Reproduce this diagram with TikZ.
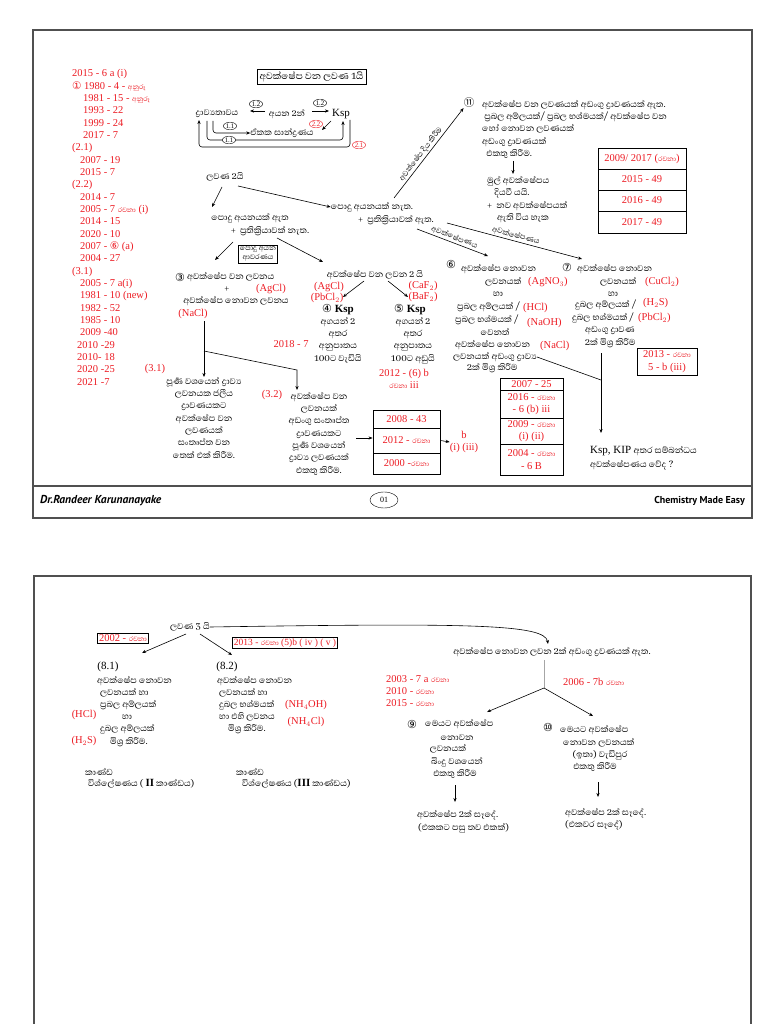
\documentclass[tikz,border=0pt]{standalone}
\usepackage{fontspec}
\setmainfont{Liberation Serif}
\newfontfamily\sif[Script=Sinhala]{Abhaya Libre}
\newfontfamily\dvs{DejaVu Sans}
\newfontfamily\cjk{Noto Sans CJK JP}
\newfontfamily\ftf{PT Sans}
\usetikzlibrary{arrows.meta,shapes.geometric}
\definecolor{rd}{RGB}{237,28,36}
\definecolor{frm}{RGB}{80,80,80}
\newcommand{\sn}[1]{{\sif\fontsize{8.5}{9}\selectfont #1}}
\begin{document}
\begin{tikzpicture}[x=1pt,y=-1pt,
  si/.style={font=\sif\fontsize{11}{12.3}\selectfont,inner sep=0pt,align=center},
  sit/.style={font=\sif\fontsize{10.8}{12}\selectfont,inner sep=0pt,align=center},
  sis/.style={font=\sif\fontsize{9.5}{10}\selectfont,inner sep=1pt},
  rt/.style={text=rd,font=\fontsize{10.5}{12.3}\selectfont,inner sep=0pt,align=center},
  bt/.style={font=\fontsize{11}{12}\selectfont,inner sep=0pt},
  cn/.style={font=\dvs\fontsize{11}{12}\selectfont,inner sep=0pt},
  arr/.style={line width=0.6pt,-{Stealth[length=4pt,width=3.2pt]}},
  ln/.style={line width=0.6pt},
  cell/.style={draw,line width=0.9pt,rt,minimum width=#1,inner sep=0pt},
  ell/.style={draw,ellipse,inner sep=0.4pt,font=\fontsize{6.8}{7}\selectfont},
]
\useasboundingbox (0,0) rectangle (768,1024);
\fill[white] (0,0) rectangle (768,1024);
% frames
\draw[frm,line width=1.1pt] (33,30) rectangle (752,518);
\draw[frm,line width=1.1pt] (33,486) -- (752,486);
\draw[frm,line width=1.1pt] (34,1040) -- (34,576) -- (751,576) -- (751,1040);
% footer
\node[font=\ftf\bfseries\itshape\fontsize{11.5}{12}\selectfont,anchor=west,inner sep=0pt] (fl) at (40,501) {Dr.Randeer Karunanayake};
\node[draw,ellipse,minimum width=28pt,minimum height=16pt,inner sep=0pt,font=\fontsize{8}{9}\selectfont] (fpg) at (384,500) {01};
\node[font=\ftf\bfseries\fontsize{10}{12}\selectfont,anchor=east,inner sep=0pt] (fr) at (745,501) {Chemistry Made Easy};
% left list
\foreach \x/\t [count=\i] in {
72/{2015 - 6 a (i)},
72/{{\dvs ①} 1980 - 4 - \sn{අනුරූ}},
83/{1981 - 15 - \sn{අනුරූ}},
83/{1993 - 22},
83/{1999 - 24},
83/{2017 - 7},
72/{(2.1)},
80/{2007 - 19},
80/{2015 - 7},
72/{(2.2)},
80/{2014 - 7},
80/{2005 - 7 \sn{රචනා} (i)},
80/{2014 - 15},
80/{2020 - 10},
80/{2007 - {\dvs ⑥} (a)},
80/{2004 - 27},
72/{(3.1)},
80/{2005 - 7 a(i)},
80/{1981 - 10 (new)},
80/{1982 - 52},
80/{1985 - 10},
80/{2009 -40},
77/{2010 -29},
77/{2010- 18},
77/{2020 -25},
77/{2021 -7}}
{\node[rt,anchor=base west] (lst\i) at (\x,{77+(\i-1)*12.32}) {\t};}
% ---------- salt 1
\node[draw,line width=0.8pt,si,font=\sif\fontsize{12}{13}\selectfont,inner sep=2.5pt] (title1) at (311.5,77) {අවක්ෂේප වන ලවණ 1යි};
\node[sit] (drav) at (217,114) {ද්^^^^200dරාව්^^^^200dයතාවය};
\node[sit] (ayana) at (287,114) {අයන 2න්};
\node[bt] (ksp) at (341,114) {Ksp};
\node[sit] (ekaka) at (282,133) {ඒකක සාන්ද්^^^^200dරණය};
\node[ell] (e12a) at (256,104) {1.2};
\node[ell] (e12b) at (320,103) {1.2};
\coordinate (ar1s) at (265,111);
\coordinate (ar1e) at (250,111);
\coordinate (ar2s) at (312,111);
\coordinate (ar2e) at (329,111);
\draw[arr] (ar1s) -- (ar1e);
\draw[arr] (ar2s) -- (ar2e);
\coordinate (d1) at (213,121);
\coordinate (d2) at (207,121);
\coordinate (d3) at (199,120);
\coordinate (k2) at (343,121);
\coordinate (k3) at (350,120);
\draw[arr,rounded corners=3pt] (d1) |- (ekaka.west);
\draw[arr,rounded corners=3pt] (d2) -- (207,140) -- (343,140) -- (k2);
\draw[arr,rounded corners=3pt] (k3) -- (350,147) -- (199,147) -- (d3);
\node[ell] (e11a) at (230,126) {1.1};
\node[ell,fill=white] (e11b) at (229,140) {1.1};
\node[ell,draw=rd,text=rd] (e22) at (316,124) {2.2};
\node[ell,draw=rd,text=rd,fill=white] (e21) at (359,145) {2.1};
\coordinate (k22a) at (331,121);
\coordinate (k22b) at (322,130);
\draw[arr] (k22a) -- (k22b);
% ---------- salt 2
\node[si] (lav2) at (225,177) {ලවණ 2යි};
\node[si] (pa1) at (250,218) {පොදු අයනයක් ඇත};
\node[si] (pa2) at (270,231) {+\ \ ප්^^^^200dරතික්^^^^200dරියාවක් නැත.};
\node[si] (pb1) at (372,207) {පොදු අයනයක් නැත.};
\node[si] (pb2) at (396,220) {+\ \ ප්^^^^200dරතික්^^^^200dරියාවක් ඇත.};
\coordinate (l2a) at (222,187);
\coordinate (l2b) at (212,207);
\coordinate (l2c) at (238,186);
\draw[arr] (l2a) -- (l2b);
\draw[arr] (l2c) -- (pb1.west);
\node[draw,line width=0.8pt,si,font=\sif\fontsize{9}{9.5}\selectfont,inner sep=1.5pt] (bxpa) at (258,254) {පොදු අයන\\ආවරණය};
\coordinate (pa3) at (233,242);
\coordinate (pa4) at (215,260);
\draw[arr] (pa3) -- (pa4);
\coordinate (pa5) at (277,238);
\coordinate (pa6) at (323,262);
\draw[arr] (pa5) -- (pa6);
% 3
\node[cn] (c3) at (180,277) {③};
\node[si,anchor=west] (s3a) at (187,277) {අවක්ෂේප වන ලවනය};
\node[si] (s3p) at (227,289) {+};
\node[rt] (agcl1) at (271,289) {(AgCl)};
\node[si] (s3b) at (236,301) {අවක්ෂේප නොවන ලවනය};
\node[rt] (nacl1) at (193,314) {(NaCl)};
\node[rt] (h31) at (155,369) {(3.1)};
\node[rt] (h32) at (272,395) {(3.2)};
\node[si,anchor=north] (s31) at (204,377) {පූර්^^^^200dණ වශයෙන් ද්^^^^200dරාව්^^^^200dය\\ලවනයක ජලීය\\ද්^^^^200dරාවණයකට\\අවක්ෂේප වන\\ලවණයක්\\සංතෘප්ත වන\\තෙක් එක් කිරීම.};
\node[si,anchor=north] (s32) at (319,392) {අවක්ෂේප වන\\ලවනයක්\\අඩංගු සංතෘප්ත\\ද්^^^^200dරාවණයකට\\පූර්^^^^200dණ වශයෙන්\\ද්^^^^200dරාව්^^^^200dය ලවණයක්\\එකතු කිරීම.};
\coordinate (v3) at (204,321);
\coordinate (v3m) at (204,351);
\coordinate (v3b) at (297,370);
\coordinate (v3c) at (297,390);
\draw[ln] (v3) -- (v3m);
\draw[arr] (v3m) -- (v3m |- s31.north);
\draw[arr] (v3m) -- (v3b) -- (v3c);
% two precipitating salts
\node[si] (s2yi) at (375,275) {අවක්ෂේප වන ලවන 2 යි};
\node[rt] (agcl2) at (329,287) {(AgCl)};
\node[rt] (pbcl2) at (327,298) {(PbCl$_2$)};
\node[rt] (caf2) at (423,286) {(CaF$_2$)};
\node[rt] (baf2) at (423,297) {(BaF$_2$)};
\coordinate (q1) at (364,281);
\coordinate (q2) at (343,297);
\coordinate (q3) at (388,281);
\coordinate (q4) at (408,297);
\draw[arr] (q1) -- (q2);
\draw[arr] (q3) -- (q4);
\node[bt,font=\fontsize{11}{12}\selectfont\bfseries] (k4) at (338,310) {{\dvs\mdseries ④} Ksp};
\node[bt,font=\fontsize{11}{12}\selectfont\bfseries] (k5) at (410,310) {{\dvs\mdseries ⑤} Ksp};
\node[si,anchor=north] (s4) at (338,317) {අගයන් 2\\අතර\\අනුපාතය\\100ට වැඩියි};
\node[si,anchor=north] (s5) at (413,317) {අගයන් 2\\අතර\\අනුපාතය\\100ට අඩුයි};
\node[rt] (y2018) at (291,344) {2018 - 7};
\node[rt] (y2012) at (404,379) {2012 - (6) b\\\sn{රචනා} iii};
% table 3.2
\node[cell=67pt,minimum height=18pt] (ta1) at (406.5,419) {2008 - 43};
\node[cell=67pt,minimum height=25pt] (ta2) at (406.5,440.5) {2012 - \sn{රචනා}};
\node[cell=67pt,minimum height=21pt] (ta3) at (406.5,463.5) {2000 -\sn{රචනා}};
\coordinate (a32) at (356,438);
\draw[arr] (a32) -- (ta2.west |- a32);
\node[rt] (bi) at (464,442) {b\\(i) (iii)};
\draw[arr] (ta2.east) -- (bi.west);
% ---------- 11
\node[font=\cjk\fontsize{10.5}{12}\selectfont,inner sep=0pt] (c11) at (469,103) {⑪};
\node[si,anchor=north west,align=left] (s11) at (482,100) {අවක්ෂේප වන ලවණයක් අඩංගු ද්^^^^200dරාවණයක් ඇත.\\\ ප්^^^^200dරබල අම්ලයක්/ ප්^^^^200dරබල භශ්මයක්/ අවක්ෂේප වන\\හෝ නොවන ලවණයක්\\අඩංගු ද්^^^^200dරාවණයක්\\\ \ එකතු කිරීම.};
\coordinate (a11a) at (513,161);
\coordinate (a11b) at (513,174);
\draw[arr] (a11a) -- (a11b);
\node[si,anchor=west] (m1) at (487,181) {මුල් අවක්ෂේපය};
\node[si] (m2) at (512,193) {දියවී යයි.};
\node[si,anchor=west] (m3) at (487,206) {+\ \ නව අවක්ෂේපයක්};
\node[si] (m4) at (523,218) {ඇති විය හැක};
\coordinate (dg1) at (394,198);
\draw[arr] (dg1) -- (c11.south west) node[pos=0.45,sloped,above,sis] {අවක්ෂේප දිය කිරීම};
% table right
\node[cell=88pt,minimum height=21pt] (tr1) at (642,158.5) {2009/ 2017 (\sn{රචනා})};
\node[cell=88pt,minimum height=21pt] (tr2) at (642,179.5) {2015 - 49};
\node[cell=88pt,minimum height=21pt] (tr3) at (642,200.5) {2016 - 49};
\node[cell=88pt,minimum height=22pt] (tr4) at (642,222) {2017 - 49};
% precipitation arrows
\coordinate (p1) at (417,229);
\coordinate (p2) at (488,256);
\coordinate (p3) at (447,223);
\coordinate (p4) at (582,259);
\draw[arr] (p1) -- (p2) node[midway,sloped,above,sis] {අවක්ෂේපණය};
\draw[arr] (p3) -- (p4) node[midway,sloped,above,sis] {අවක්ෂේපණය};
% 6
\node[cn] (c6) at (451,264) {⑥};
\node[si,anchor=west] (s6a) at (461,269) {අවක්ෂේප නොවන};
\node[si,anchor=west] (s6b) at (485,282) {ලවනයක්};
\node[rt,anchor=west] (agno3) at (528,282) {(AgNO$_3$)};
\node[si] (s6c) at (498,294) {හා};
\node[si,anchor=west] (s6d) at (457,307) {ප්^^^^200dරබල අම්ලයක් /};
\node[rt,anchor=west] (hcl1) at (523,308) {(HCl)};
\node[si,anchor=west] (s6e) at (455,320) {ප්^^^^200dරබල භශ්මයක් /};
\node[rt,anchor=west] (naoh) at (527,323) {(NaOH)};
\node[si] (s6f) at (495,332) {වෙනත්};
\node[si,anchor=west] (s6g) at (455,345) {අවක්ෂේප නොවන};
\node[rt,anchor=west] (nacl2) at (540,346) {(NaCl)};
\node[si,anchor=west] (s6h) at (453,357) {ලවනයක් අඩංගු ද්^^^^200dරාව්^^^^200dය};
\node[si,anchor=west] (s6i) at (467,368) {2ක් මිශ්^^^^200dර කිරීම};
% 7
\node[cn] (c7) at (567,267) {⑦};
\node[si,anchor=west] (s7a) at (577,269) {අවක්ෂේප නොවන};
\node[si,anchor=west] (s7b) at (600,282) {ලවනයක්};
\node[rt,anchor=west] (cucl2) at (645,282) {(CuCl$_2$)};
\node[si] (s7c) at (613,294) {හා};
\node[si,anchor=west] (s7d) at (575,305) {දුබල අම්ලයක් /};
\node[rt,anchor=west] (h2s1) at (643,303) {(H$_2$S)};
\node[si,anchor=west] (s7e) at (572,318) {දුබල භශ්මයක් /};
\node[rt,anchor=west] (pbcl2b) at (638,318) {(PbCl$_2$)};
\node[si,anchor=west] (s7f) at (585,331) {අඩංගු ද්^^^^200dරාවණ};
\node[si,anchor=west] (s7g) at (585,343) {2ක් මිශ්^^^^200dර කිරීම};
\node[draw,line width=0.9pt,rt,minimum width=60pt,minimum height=27pt] (b2013) at (667,361.5) {2013 - \sn{රචනා}\\5 - b (iii)};
% table below 6
\node[cell=63pt,minimum height=12pt] (tb1) at (531.5,384) {2007 - 25};
\node[cell=63pt,minimum height=28pt] (tb2) at (531.5,404) {2016 - \sn{රචනා}\\- 6 (b) iii};
\node[cell=63pt,minimum height=26pt] (tb3) at (531.5,431) {2009 - \sn{රචනා}\\(i) (ii)};
\node[cell=63pt,minimum height=31pt] (tb4) at (531.5,459.5) {2004 - \sn{රචනා}\\- 6 B};
% Ksp KIP
\node[anchor=west,inner sep=0pt] (kk1) at (590,451) {{\fontsize{11}{12}\selectfont Ksp, KIP} {\sif\fontsize{11}{12}\selectfont අතර සම්බන්ධය}};
\node[si,anchor=west] (kk2) at (590,465) {අවක්ෂේපණය වේද ?};
\coordinate (v7) at (601,353);
\coordinate (v7m) at (601,380);
\coordinate (v7b) at (601,433);
\draw[ln] (s6h.east) -- (v7m);
\draw[arr] (v7) -- (v7b);
% ================= page 2
\node[si] (l3) at (190,627) {ලවණ 3 යි};
\node[si] (nb2) at (552,652) {අවක්ෂේප නොවන ලවන 2ක් අඩංගු ද්^^^^200dරවණයක් ඇත.};
\coordinate (nbt) at (548,644);
\draw[arr] (l3.east) .. controls (470,623) and (545,624) .. (nbt);
\node[draw,line width=0.9pt,rt,inner sep=1.5pt] (b2002) at (123,638) {2002 - \sn{රචනා}};
\node[draw,line width=0.9pt,rt,inner sep=1.5pt,font=\fontsize{9.5}{11}\selectfont] (b2013b) at (285,643) {2013 - \sn{රචනා} (5)b ( iv ) ( v )};
\coordinate (r1) at (186,634);
\coordinate (r2) at (142,653);
\coordinate (r3) at (200,634);
\coordinate (r4) at (232,655);
\draw[arr] (r1) -- (r2);
\draw[arr] (r3) -- (r4);
% 8.1
\node[bt] (h81) at (108,667) {(8.1)};
\node[si,anchor=west] (s81a) at (97,681) {අවක්ෂේප නොවන};
\node[si,anchor=west] (s81b) at (100,693) {ලවනයක් හා};
\node[si,anchor=west] (s81c) at (100,705) {ප්^^^^200dරබල අම්ලයක්};
\node[si] (s81d) at (127,717) {හා};
\node[si,anchor=west] (s81e) at (100,729) {දුබල අම්ලයක්};
\node[si,anchor=west] (s81f) at (110,742) {මිශ්^^^^200dර කිරීම.};
\node[rt] (hcl2) at (84,715) {(HCl)};
\node[rt] (h2s2) at (84,741) {(H$_2$S)};
% 8.2
\node[bt] (h82) at (227,667) {(8.2)};
\node[si,anchor=west] (s82a) at (217,681) {අවක්ෂේප නොවන};
\node[si,anchor=west] (s82b) at (219,693) {ලවනයක් හා};
\node[si,anchor=west] (s82c) at (219,705) {දුබල භශ්මයක්};
\node[si,anchor=west] (s82d) at (219,717) {හා එහි ලවනය};
\node[si,anchor=west] (s82e) at (228,729) {මිශ්^^^^200dර කිරීම.};
\node[rt] (nh4oh) at (306,705) {(NH$_4$OH)};
\node[rt] (nh4cl) at (306,722) {(NH$_4$Cl)};
% group analysis
\node[si] (ka1) at (99,772) {කාණ්ඩ};
\node[si,anchor=west] (ka2) at (88,784) {විශ්ලේෂණය ( {\rmfamily\bfseries II} කාණ්ඩය)};
\node[si] (kb1) at (250,772) {කාණ්ඩ};
\node[si,anchor=west] (kb2) at (242,784) {විශ්ලේෂණය ({\rmfamily\bfseries III} කාණ්ඩය)};
% split
\coordinate (sp0) at (544,660);
\coordinate (sp) at (544,688);
\coordinate (sp1) at (487,712);
\coordinate (sp2) at (593,716);
\draw[ln,black!35] (sp0) -- (sp);
\draw[arr] (sp) -- (sp1);
\draw[arr] (sp) -- (sp2);
\node[rt,anchor=north west,align=left] (y2003) at (386,675) {2003 - 7 a \sn{රචනා}\\2010 - \sn{රචනා}\\2015 - \sn{රචනා}};
\node[rt,anchor=west] (y2006) at (563,682) {2006 - 7b \sn{රචනා}};
% 9
\node[cn] (c9) at (412,724) {⑨};
\node[si,anchor=west] (s9a) at (425,724) {මෙයට අවක්ෂේප};
\node[si] (s9b) at (457,737) {නොවන};
\node[si] (s9c) at (448,749) {ලවනයක්};
\node[si] (s9d) at (457,762) {බිංදු වශයෙන්};
\node[si] (s9e) at (455,774) {එකතු කිරීම};
\coordinate (a9a) at (455,785);
\coordinate (a9b) at (455,802);
\draw[arr] (a9a) -- (a9b);
\node[si,anchor=west] (s9f) at (417,815) {අවක්ෂේප 2ක් සෑදේ.};
\node[si,anchor=west] (s9g) at (418,828) {(එකකට පසු තව එකක්)};
% 10
\node[cn] (c10) at (548,727) {⑩};
\node[si,anchor=west] (s10a) at (560,730) {මෙයට අවක්ෂේප};
\node[si,anchor=west] (s10b) at (563,743) {නොවන ලවනයක්};
\node[si] (s10c) at (600,755) {(ඉතා) වැඩිපුර};
\node[si] (s10d) at (595,767) {එකතු කිරීම};
\coordinate (a10a) at (598,782);
\coordinate (a10b) at (598,797);
\draw[arr] (a10a) -- (a10b);
\node[si,anchor=west] (s10f) at (565,813) {අවක්ෂේප 2ක් සෑදේ.};
\node[si,anchor=west] (s10g) at (565,825) {(එකවර සෑදේ)};
\end{tikzpicture}
\end{document}
